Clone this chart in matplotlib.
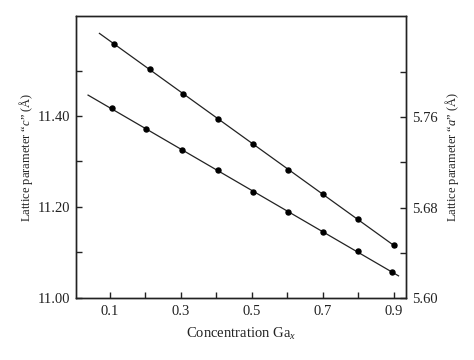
import numpy as np
import matplotlib
matplotlib.use('Agg')
import matplotlib.pyplot as plt
from matplotlib.ticker import FixedLocator, FormatStrFormatter

# measured points
x_c = [0.112, 0.214, 0.307, 0.404, 0.502, 0.602, 0.699, 0.799, 0.901]
c_vals = [11.559, 11.503, 11.448, 11.393, 11.339, 11.281, 11.228, 11.173, 11.115]
x_a = [0.105, 0.202, 0.303, 0.406, 0.502, 0.602, 0.701, 0.799, 0.894]
a_vals = [5.768, 5.750, 5.731, 5.713, 5.694, 5.676, 5.658, 5.641, 5.623]

# extent of the fitted lines
fit_range_c = [0.071, 0.907]
fit_range_a = [0.039, 0.913]

x_major = [0.1, 0.3, 0.5, 0.7, 0.9]
x_minor = [0.2, 0.4, 0.6, 0.8]
c_major = [11.0, 11.2, 11.4]
c_minor = [11.1, 11.3, 11.5]
a_major = [5.60, 5.68, 5.76]
a_minor = [5.64, 5.72, 5.80]

ink = '#222222'
plt.rcParams['font.family'] = ['Liberation Serif', 'DejaVu Serif']
plt.rcParams['mathtext.fontset'] = 'custom'
plt.rcParams['mathtext.rm'] = 'Liberation Serif'
plt.rcParams['mathtext.it'] = 'Liberation Serif:italic'

fig = plt.figure(figsize=(4.74, 3.6), dpi=100)
ax = fig.add_axes([0.1603, 0.1731, 0.6962, 0.7825])
ax2 = ax.twinx()

pc = np.polyfit(x_c, c_vals, 1)
xx = np.array(fit_range_c)
ax.plot(xx, np.polyval(pc, xx), color=ink, lw=0.9)
ax.plot(x_c, c_vals, 'o', color='black', ms=3.6)

pa = np.polyfit(x_a, a_vals, 1)
xx = np.array(fit_range_a)
ax2.plot(xx, np.polyval(pa, xx), color=ink, lw=0.9)
ax2.plot(x_a, a_vals, 'o', color='black', ms=3.6)

ax.set_xlim(0.005, 0.934)
ax.set_ylim(11.0, 11.62)
ax2.set_ylim(5.60, 5.85)

ax.xaxis.set_major_locator(FixedLocator(x_major))
ax.xaxis.set_minor_locator(FixedLocator(x_minor))
ax.yaxis.set_major_locator(FixedLocator(c_major))
ax.yaxis.set_minor_locator(FixedLocator(c_minor))
ax2.yaxis.set_major_locator(FixedLocator(a_major))
ax2.yaxis.set_minor_locator(FixedLocator(a_minor))
ax.xaxis.set_major_formatter(FormatStrFormatter('%.1f'))
ax.yaxis.set_major_formatter(FormatStrFormatter('%.2f'))
ax2.yaxis.set_major_formatter(FormatStrFormatter('%.2f'))

for a in (ax, ax2):
    for s in a.spines.values():
        s.set_color(ink)
        s.set_linewidth(1.0)
ax.tick_params(axis='x', which='both', direction='in', length=4.5, width=1.0,
               color=ink, labelcolor=ink, labelsize=10.5, pad=5, top=False)
ax.tick_params(axis='y', which='both', direction='in', length=4.5, width=1.0,
               color=ink, labelcolor=ink, labelsize=10.5, pad=4, right=False)
ax2.tick_params(axis='y', which='both', direction='in', length=4.5, width=1.0,
                color=ink, labelcolor=ink, labelsize=10.5, pad=4.5)

ax.set_xlabel('Concentration Ga$_x$', fontsize=10.5, color=ink, labelpad=6)
ax.set_ylabel('Lattice parameter \u201c$c$\u201d (\u00c5)', fontsize=9, color=ink, labelpad=2)
ax2.set_ylabel('Lattice parameter \u201c$a$\u201d (\u00c5)', fontsize=9, color=ink, labelpad=4)

fig.savefig('out.png', dpi=100)
